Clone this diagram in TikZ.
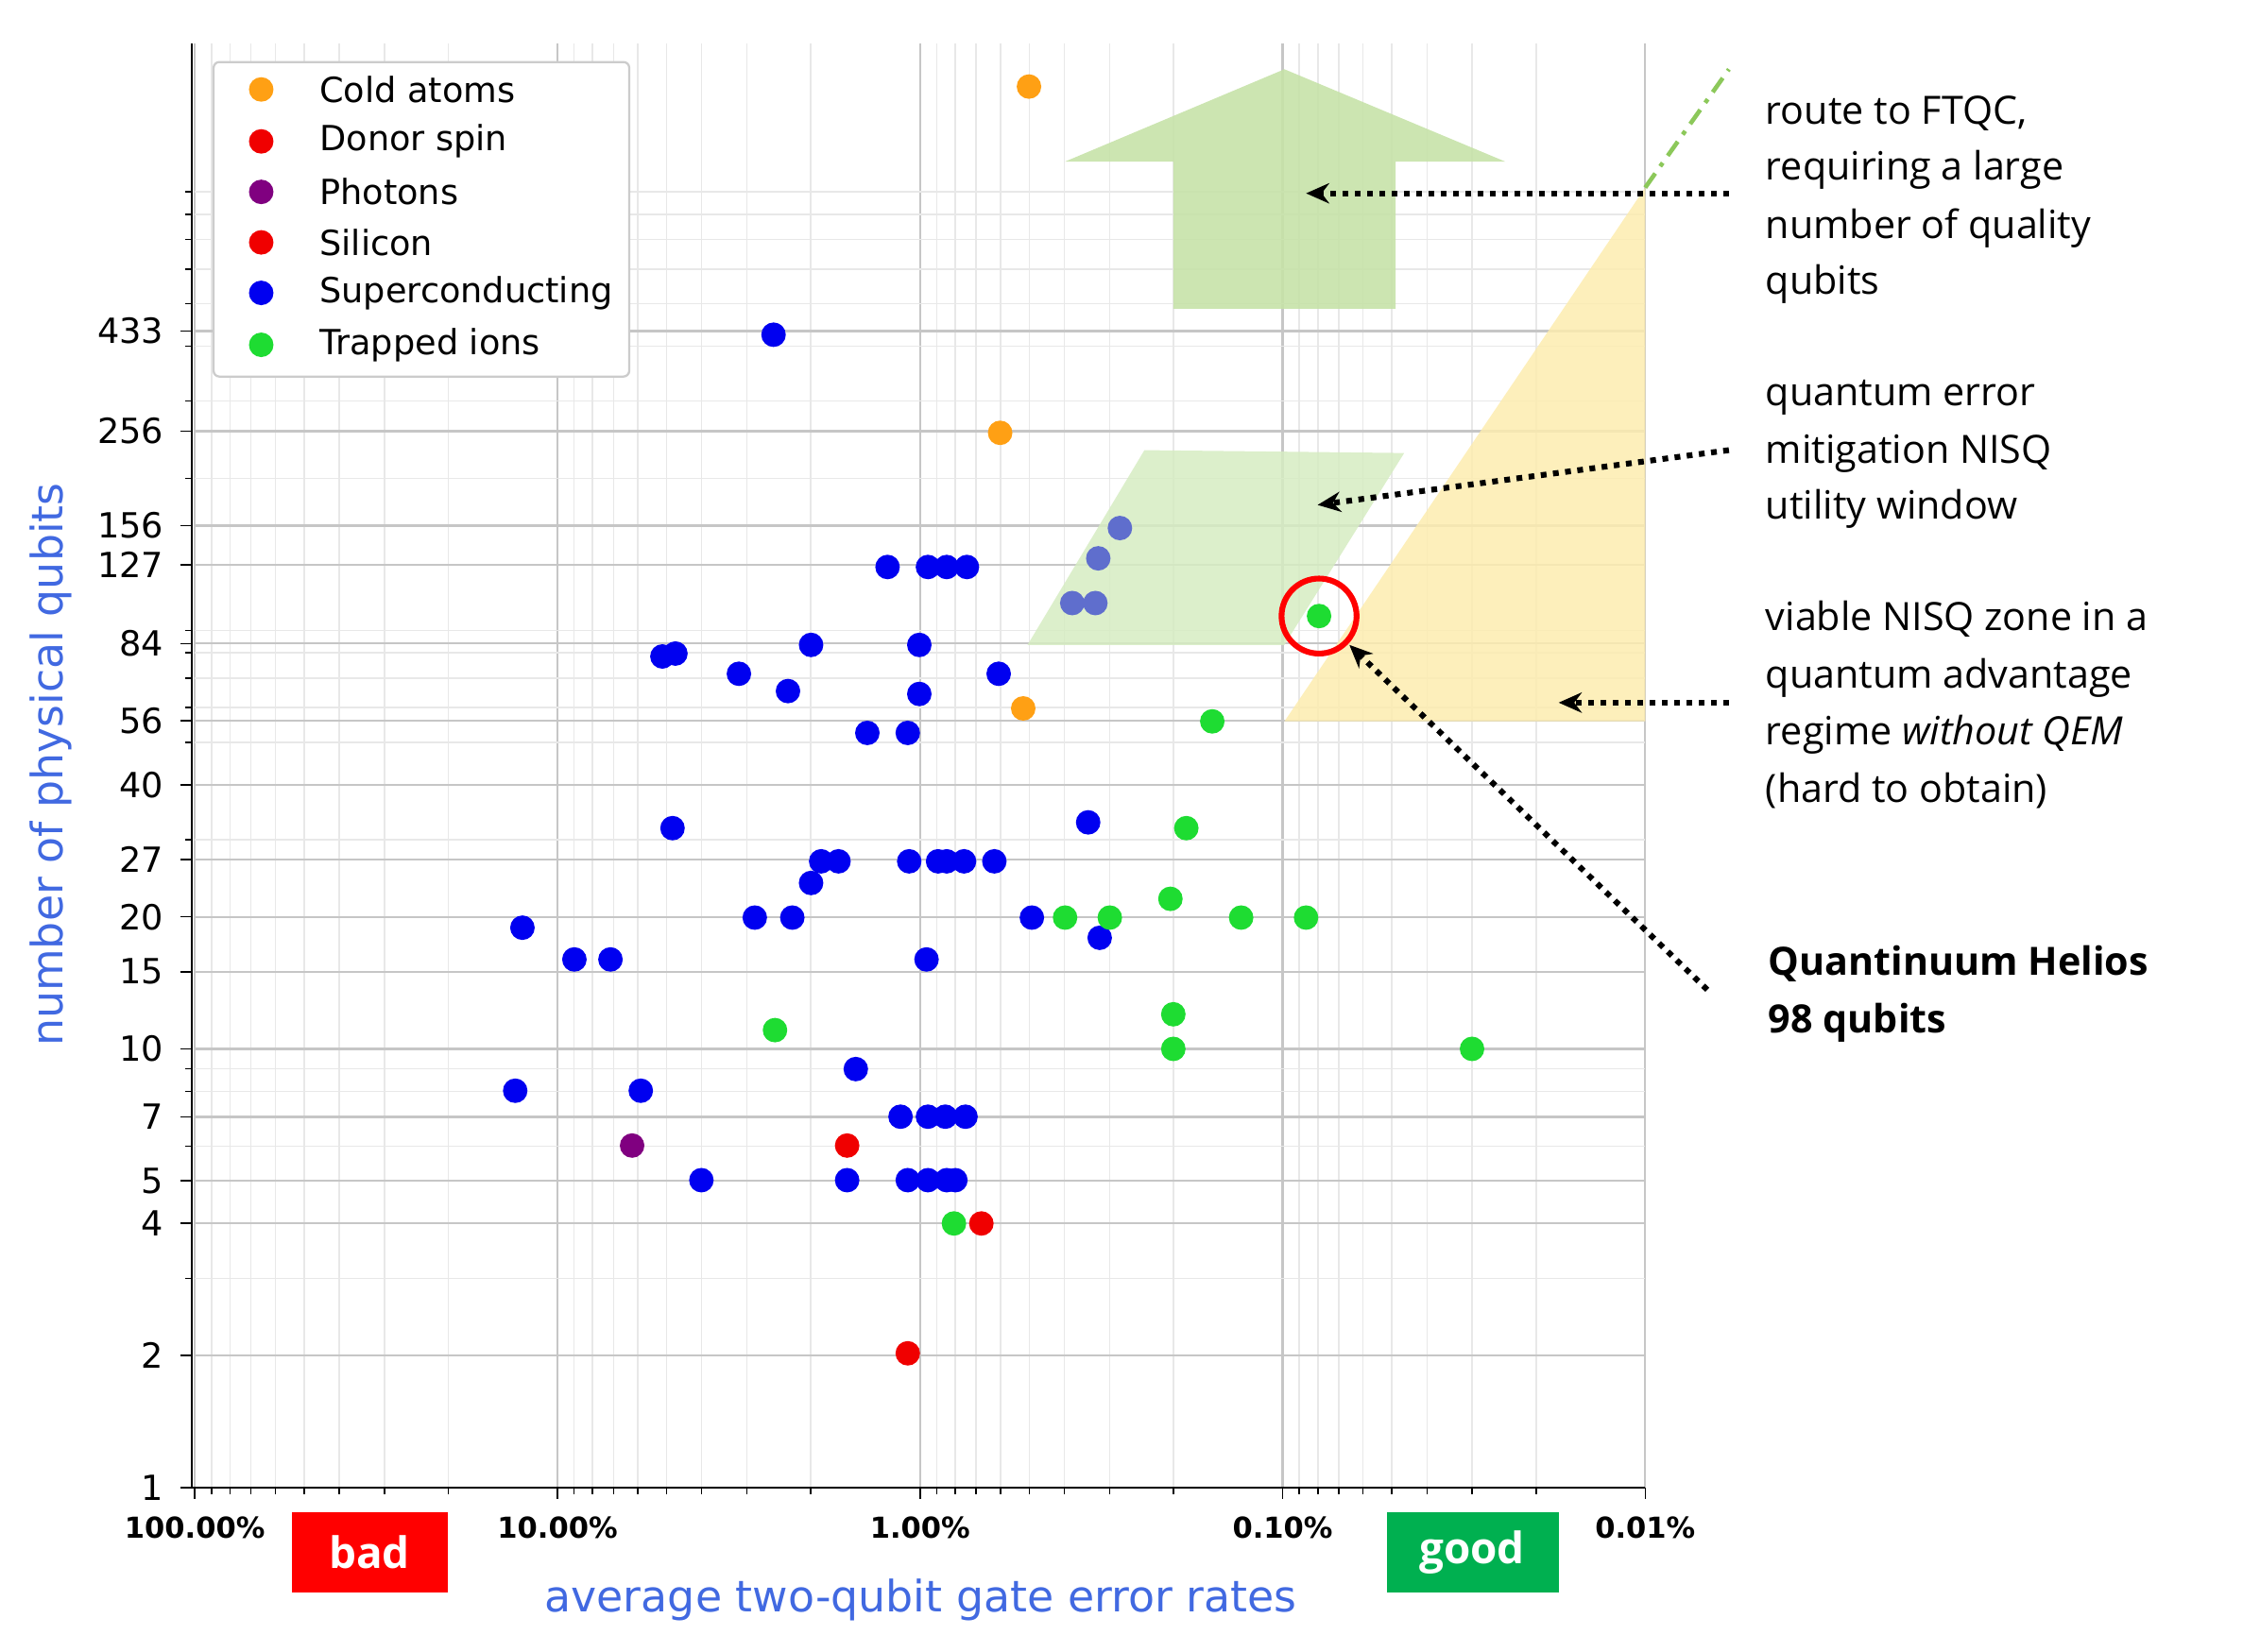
\documentclass[tikz,border=0pt]{standalone}
\usepackage{fontspec}
\setmainfont{DejaVu Sans}
\newfontfamily\rt{Open Sans}
\usetikzlibrary{arrows.meta}
\definecolor{sc}{RGB}{0,0,240}
\definecolor{scf}{RGB}{95,110,205}
\definecolor{ti}{RGB}{30,220,50}
\definecolor{ca}{RGB}{255,160,20}
\definecolor{ds}{RGB}{240,0,0}
\definecolor{ph}{RGB}{128,0,128}
\definecolor{axl}{RGB}{65,105,225}
\definecolor{gd}{RGB}{0,176,80}
\definecolor{garr}{RGB}{198,226,168}
\definecolor{gpar}{RGB}{214,236,194}
\definecolor{yel}{RGB}{253,236,175}
\definecolor{gline}{RGB}{140,200,90}
\tikzset{
 pt/.style={circle,fill=#1,inner sep=0pt,minimum size=17pt},
 dotarr/.style={line width=4pt,dash pattern=on 4pt off 4.5pt,-{Stealth[length=16pt,width=14pt]}},
 tk/.style={font=\fontsize{24}{24}\selectfont},
 xt/.style={font=\bfseries\fontsize{20}{20}\selectfont},
 rtx/.style={font=\rt\fontsize{27}{27}\selectfont,anchor=base west},
}
\newcommand{\pdot}[3]{\node[pt=#3] at (#1,#2) {};}
\begin{document}
\begin{tikzpicture}[x=1pt,y=-1pt]
\useasboundingbox (0,0) rectangle (1566,1145);
% grids
\foreach \d in {0,1,2,3}{
 \foreach \m in {2,...,9}{
  \pgfmathsetmacro\xx{135+251.25*\d+251.25*(1-log10(\m))}
  \draw[gray!18,line width=1pt] (\xx,30) -- (\xx,1031);
  \draw[line width=1pt] (\xx,1031) -- (\xx,1036);
 }
 \pgfmathsetmacro\xx{135+251.25*\d}
 \draw[gray!45,line width=1.5pt] (\xx,30) -- (\xx,1031);
}
\draw[gray!45,line width=1.5pt] (1140,30) -- (1140,1031);
\foreach \d in {0,1,2,3}{
 \foreach \m in {2,...,9}{
  \pgfmathsetmacro\yy{1031-304*(\d+log10(\m))}
  \ifdim\yy pt>30pt
  \draw[gray!18,line width=1pt] (135,\yy) -- (1140,\yy);
  \draw[line width=1pt] (128,\yy) -- (133,\yy);
  \fi
 }}
\foreach \n in {1,2,4,5,7,10,15,20,27,40,56,84,127,156,256,433}{
 \pgfmathsetmacro\yy{1031-304*log10(\n)}
 \draw[gray!45,line width=1.5pt] (135,\yy) -- (1140,\yy);
 \draw[line width=1pt] (125,\yy) -- (133,\yy);
 \node[tk,anchor=east] at (117,\yy) {\n};
}
\foreach \d in {0,...,4}{\draw[line width=1pt] (135+251.25*\d,1031) -- (135+251.25*\d,1039);}
\draw[line width=1pt] (133,30) -- (133,1031) -- (1140,1031);
% shapes
\fill[yel,opacity=0.85] (890,500) -- (1140,130) -- (1140,500) -- cycle;
\fill[gpar,opacity=0.85] (712,447) -- (793,312) -- (973,314) -- (890,447) -- cycle;
\fill[garr,opacity=0.9] (738,112) -- (890,48) -- (1043,112) -- (967,112) -- (967,214) -- (813,214) -- (813,112) -- cycle;
\draw[gline,line width=3pt,dash pattern=on 12pt off 6pt on 3pt off 6pt] (1140,130) -- (1198,48);
% points
\foreach \x/\y in {536/232,615/393,643/393,656/393,670/393,562/447,637/447,459/455,468/453,512/467,546/479,637/481,692/467,601/508,629/508,466/574,754/570,562/612,569/597,581/597,630/597,650/597,656/597,668/597,689/597,523/636,549/636,715/636,762/650,362/643,398/665,423/665,642/665,357/756,444/756,593/741,624/774,643/774,655/774,669/774,486/818,587/818,629/818,643/818,656/818,662/818}{\pdot{\x}{\y}{sc}}
\foreach \x/\y in {776/366,761/387,743/418,759/418}{\pdot{\x}{\y}{scf}}
\foreach \x/\y in {713/60,693/300,709/491}{\pdot{\x}{\y}{ca}}
\foreach \x/\y in {587/794,680/848,629/938}{\pdot{\x}{\y}{ds}}
\pdot{438}{794}{ph}
\foreach \x/\y in {914/427,840/500,822/574,811/623,738/636,769/636,860/636,905/636,813/703,813/727,1020/727,537/714,661/848}{\pdot{\x}{\y}{ti}}
\draw[red,line width=4pt] (914,427) circle (26);
% legend
\draw[gray!40,line width=1.5pt,fill=white,rounded corners=4pt] (148,43) rectangle (436,261);
\foreach \y/\c/\t in {62/ca/Cold atoms,98/ds/Donor spin,133/ph/Photons,168/ds/Silicon,203/sc/Superconducting,239/ti/Trapped ions}{
 \pdot{181}{\y}{\c}
 \node[tk,anchor=west] at (218,\y) {\t};}
% arrows
\coordinate (a1) at (1198,134); \coordinate (b1) at (905,134);
\coordinate (a2) at (1198,312); \coordinate (b2) at (913,350);
\coordinate (a3) at (1198,487); \coordinate (b3) at (1080,487);
\coordinate (a4) at (1183,686); \coordinate (b4) at (935,447);
\draw[dotarr] (a1) -- (b1);
\draw[dotarr] (a2) -- (b2);
\draw[dotarr] (a3) -- (b3);
\draw[dotarr] (a4) -- (b4);
% right text
\node[rtx] at (1220,86) {route to FTQC,};
\node[rtx] at (1220,125) {requiring a large};
\node[rtx] at (1220,165) {number of quality};
\node[rtx] at (1220,204) {qubits};
\node[rtx] at (1220,281) {quantum error};
\node[rtx] at (1220,321) {mitigation NISQ};
\node[rtx] at (1220,360) {utility window};
\node[rtx] at (1220,437) {viable NISQ zone in a};
\node[rtx] at (1220,477) {quantum advantage};
\node[rtx] at (1220,516) {regime \textit{without QEM}};
\node[rtx] at (1220,556) {(hard to obtain)};
\node[rtx,font=\rt\bfseries\fontsize{27}{27}\selectfont] at (1222,676) {Quantinuum Helios};
\node[rtx,font=\rt\bfseries\fontsize{27}{27}\selectfont] at (1222,716) {98 qubits};
% x labels
\foreach \d/\t in {0/100.00\%,1/10.00\%,2/1.00\%,3/0.10\%,4/0.01\%}{\node[xt] at (135+251.25*\d,1059) {\t};}
\fill[red] (202,1048) rectangle (310,1104);
\node[font=\rt\bfseries\fontsize{30}{30}\selectfont,white] at (256,1076) {bad};
\fill[gd] (961,1048) rectangle (1080,1104);
\node[font=\rt\bfseries\fontsize{30}{30}\selectfont,white] at (1020,1076) {good};
\node[font=\fontsize{30}{30}\selectfont,axl] at (638,1109) {average two-qubit gate error rates};
\node[font=\fontsize{30}{30}\selectfont,axl,rotate=90] at (35,530) {number of physical qubits};
\end{tikzpicture}
\end{document}
